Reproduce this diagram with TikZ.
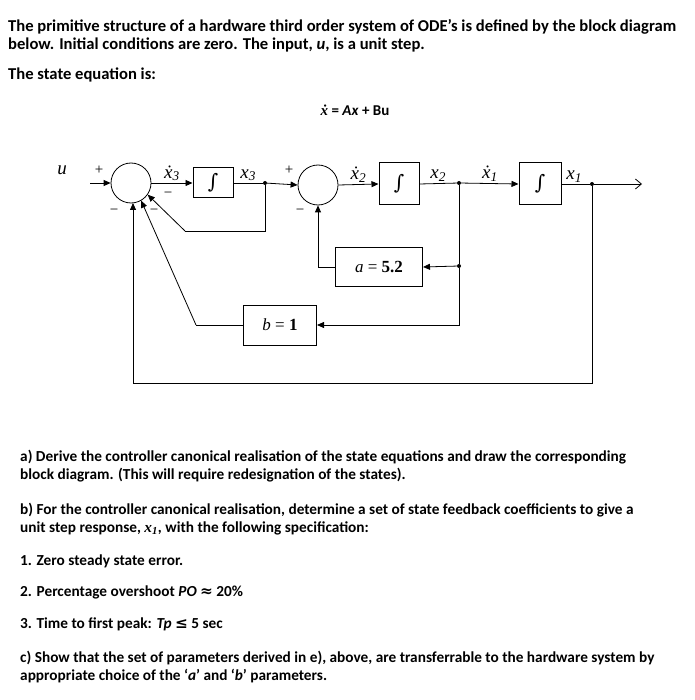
\documentclass[tikz,border=0pt]{standalone}
\usepackage{fontspec}
\setmainfont{Carlito}
\newfontfamily\symf{DejaVu Serif}
\newfontfamily\labf{Liberation Serif}
\newcommand\dx[1]{\.{x}\textsubscript{#1}}
\newcommand\px[1]{x\textsubscript{#1}}
\usetikzlibrary{arrows.meta}
\begin{document}
\begin{tikzpicture}[x=1pt,y=-1pt,
  txt/.style={anchor=west,inner sep=0pt,font=\fontsize{16.6}{18}\selectfont\bfseries},
  txtb/.style={anchor=west,inner sep=0pt,font=\fontsize{15.3}{18}\selectfont\bfseries},
  blk/.style={draw,line width=1pt,inner sep=0pt,font=\fontsize{17}{19}\selectfont\labf},
  intg/.style={blk,font=\fontsize{20}{22}\selectfont\symf},
  sumn/.style={draw,circle,minimum size=40pt,inner sep=0pt,line width=0.8pt},
  dot/.style={circle,fill,inner sep=0pt,minimum size=4pt},
  ln/.style={line width=0.8pt},
  arr/.style={ln,-{Triangle[length=7pt,width=6pt]}},
  lab/.style={inner sep=1.5pt,font=\fontsize{19}{20}\selectfont\labf\itshape},
  sg/.style={inner sep=0pt,font=\fontsize{15}{16}\selectfont\labf}]
\useasboundingbox[fill=white] (0,0) rectangle (694,700);
\node[txt] (t1) at (8,27) {The primitive structure of a hardware third order system of ODE’s is defined by the block diagram};
\node[txt] (t2) at (8,45) {below. Initial conditions are zero. The input, \textit{u}, is a unit step.};
\node[txt] (t3) at (8,75) {The state equation is:};
\node[inner sep=0pt,font=\fontsize{15}{17}\selectfont\bfseries] (eq) at (355,110) {{\labf\itshape\.{x}} = \textit{Ax} + Bu};

% blocks
\node[sumn] (s1) at (131,183) {};
\node[intg,minimum width=40pt,minimum height=30pt] (i1) at (213,183) {∫};
\node[sumn] (s2) at (318,185) {};
\node[intg,minimum width=40pt,minimum height=42pt] (i2) at (399,184) {∫};
\node[intg,minimum width=42pt,minimum height=42pt] (i3) at (540,184) {∫};
\node[blk,minimum width=87pt,minimum height=38pt] (a) at (379,267) {\textit{a} = \textbf{5.2}};
\node[blk,minimum width=73pt,minimum height=40pt] (b) at (280,325) {\textit{b} = \textbf{1}};
\node[dot] (j3) at (265,183) {};
\node[dot] (j2) at (459,183) {};
\node[dot] (ja) at (459,266) {};
\node[dot] (j1) at (592,184) {};
\coordinate (u) at (90,183);
\coordinate (out) at (642,184);

\draw[arr] (u) -- (s1.west);
\draw[arr] (s1.east) -- node[lab,above]{\dx{3}} (i1.west);
\draw[ln] (i1.east) -- node[lab,above]{\px{3}} (j3);
\draw[arr] (j3) -- (s2.west);
\draw[arr] (s2.east) -- node[lab,above]{\dx{2}} (i2.west);
\draw[ln] (i2.east) -- node[lab,above]{\px{2}} (j2);
\draw[arr] (j2) -- node[lab,above]{\dx{1}} (i3.west);
\draw[ln] (i3.east) -- node[lab,above,pos=0.45]{\px{1}} (j1);
\draw[ln,-{Straight Barb[length=6pt,width=10pt]}] (j1) -- (out);

\draw[ln] (j3) |- (185,231);
\draw[arr] (185,231) -- (s1.-35);
\draw[ln] (j2) -- (ja);
\draw[arr] (ja) -- (a.east);
\draw[arr] (ja) |- (b.east);
\draw[arr] (a.west) -| (s2.south);
\draw[ln] (b.west) -- (196,325);
\draw[arr] (196,325) -- (s1.-60);
\draw[arr] (j1) |- (133,383) -- (133,203);

\node[sg] at (99,170) {+};
\node[sg] at (114,212) {−};
\node[sg] at (154,212) {−};
\node[sg] at (168,195) {−};
\node[sg] at (289,170) {+};
\node[sg] at (300,212) {−};
\node[lab] at (62,170) {u};

\node[txtb] (ta1) at (20,457) {a) Derive the controller canonical realisation of the state equations and draw the corresponding};
\node[txtb] (ta2) at (20,475) {block diagram. (This will require redesignation of the states).};
\node[txtb] (tb1) at (20,510) {b) For the controller canonical realisation, determine a set of state feedback coefficients to give a};
\node[txtb] (tb2) at (20,528) {unit step response, {\labf\itshape x\textsubscript{1}}, with the following specification:};
\node[txtb] (tc1) at (20,561) {1. Zero steady state error.};
\node[txtb] (tc2) at (20,592) {2. Percentage overshoot \textit{PO} {\symf ≈} 20\%};
\node[txtb] (tc3) at (20,624) {3. Time to first peak: \textit{Tp} {\symf ≤} 5 sec};
\node[txtb] (td1) at (20,658) {c) Show that the set of parameters derived in e), above, are transferrable to the hardware system by};
\node[txtb] (td2) at (20,676) {appropriate choice of the ‘\textit{a}’ and ‘\textit{b}’ parameters.};
\end{tikzpicture}
\end{document}
